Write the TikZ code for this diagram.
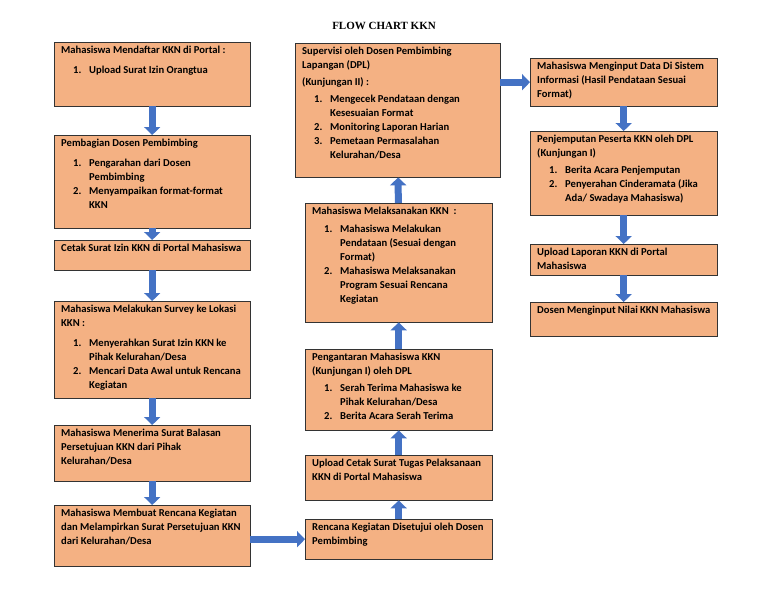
\documentclass[tikz,border=0pt]{standalone}
\usepackage{fontspec}
\setmainfont{Carlito}
\newfontfamily\titlefont{Liberation Serif}
\usetikzlibrary{arrows.meta}
\definecolor{peach}{RGB}{244,177,131}
\definecolor{flowblue}{RGB}{68,114,196}
\newcommand\li[2]{\par{\leftskip=28pt\noindent\llap{\makebox[16pt][l]{#1.}}#2\par}}
\newcommand\bx[6]{\node[box,anchor=north west] (#1) at (#2,#3)
  {\parbox[t][\dimexpr#5pt-8pt\relax][t]{\dimexpr#4pt-14pt\relax}{\raggedright\leftskip=0pt #6}};}

\begin{document}
\begin{tikzpicture}
    [x=1pt,y=-1pt,
     box/.style={rectangle,draw=black!80,fill=peach,inner ysep=4pt,inner xsep=7pt,
       font=\fontsize{10.6}{14}\selectfont\bfseries},
     up/.style={draw=flowblue,line width=7pt,-{Triangle[width=16pt,length=8pt]}}]
    \useasboundingbox (0,0) rectangle (768,594);
    \node[font=\titlefont\bfseries\fontsize{11}{12}\selectfont] (title) at (384,26) {FLOW CHART KKN};

    % first column
    \bx{daftar}{54}{42}{196}{64}{Mahasiswa Mendaftar KKN di Portal :\par\vspace{6pt}\li{1}{Upload Surat Izin Orangtua}}
    \bx{bagi}{54}{135}{196}{93}{Pembagian Dosen Pembimbing\par\vspace{6pt}\li{1}{Pengarahan dari Dosen Pembimbing}\li{2}{Menyampaikan format-format KKN}}
    \bx{cetak}{54}{240}{196}{30}{Cetak Surat Izin KKN di Portal Mahasiswa}
    \bx{survey}{54}{301}{196}{97}{Mahasiswa Melakukan Survey ke Lokasi KKN :\par\vspace{6pt}\li{1}{Menyerahkan Surat Izin KKN ke Pihak Kelurahan/Desa}\li{2}{Mencari Data Awal untuk Rencana Kegiatan}}
    \bx{balasan}{54}{425}{196}{56}{Mahasiswa Menerima Surat Balasan Persetujuan KKN dari Pihak Kelurahan/Desa}
    \bx{rencana}{54}{505}{196}{61}{Mahasiswa Membuat Rencana Kegiatan dan Melampirkan Surat Persetujuan KKN dari Kelurahan/Desa}

    % second column
    \bx{setuju}{305}{519}{187}{40}{Rencana Kegiatan Disetujui oleh Dosen Pembimbing}
    \bx{tugas}{305}{455}{187}{45}{Upload Cetak Surat Tugas Pelaksanaan KKN di Portal Mahasiswa}
    \bx{antar}{305}{349}{187}{81}{Pengantaran Mahasiswa KKN (Kunjungan I) oleh DPL\par\vspace{3pt}\li{1}{Serah Terima Mahasiswa ke Pihak Kelurahan/Desa}\li{2}{Berita Acara Serah Terima}}
    \bx{laksana}{305}{203}{187}{119}{Mahasiswa Melaksanakan KKN\ \ :\par\vspace{4pt}\li{1}{Mahasiswa Melakukan Pendataan (Sesuai dengan Format)}\li{2}{Mahasiswa Melaksanakan Program Sesuai Rencana Kegiatan}}
    \bx{supervisi}{295}{43}{205}{134}{Supervisi oleh Dosen Pembimbing Lapangan (DPL)\par\vspace{3pt}(Kunjungan II) :\par\vspace{3pt}\li{1}{Mengecek Pendataan dengan Kesesuaian Format}\li{2}{Monitoring Laporan Harian}\li{3}{Pemetaan Permasalahan Kelurahan/Desa}}

    % third column
    \bx{input}{530}{58}{187}{48}{Mahasiswa Menginput Data Di Sistem Informasi (Hasil Pendataan Sesuai Format)}
    \bx{jemput}{530}{131}{187}{84}{Penjemputan Peserta KKN oleh DPL (Kunjungan I)\par\vspace{3pt}\li{1}{Berita Acara Penjemputan}\li{2}{Penyerahan Cinderamata (Jika Ada/ Swadaya Mahasiswa)}}
    \bx{laporan}{530}{244}{187}{31}{Upload Laporan KKN di Portal Mahasiswa}
    \bx{nilai}{530}{302}{187}{34}{Dosen Menginput Nilai KKN Mahasiswa}

    % connectors
    \draw[up] (daftar) -- (bagi);
    \draw[up] (bagi) -- (cetak);
    \draw[up] (cetak) -- (survey);
    \draw[up] (survey) -- (balasan);
    \draw[up] (balasan) -- (rencana);
    \draw[up] (rencana.east |- setuju.west) -- (setuju.west);
    \draw[up] (setuju) -- (tugas);
    \draw[up] (tugas) -- (antar);
    \draw[up] (antar) -- (laksana);
    \draw[up] (laksana) -- (supervisi);
    \draw[up] (supervisi.east |- input.west) -- (input.west);
    \draw[up] (input) -- (jemput);
    \draw[up] (jemput) -- (laporan);
    \draw[up] (laporan) -- (nilai);
\end{tikzpicture}
\end{document}
